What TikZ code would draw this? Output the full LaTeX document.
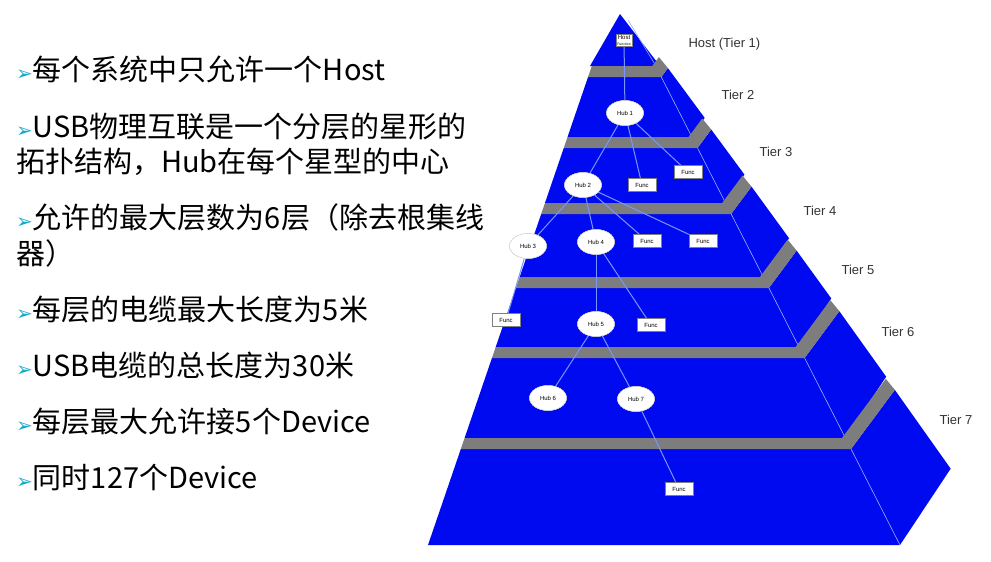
\documentclass[tikz,border=0pt]{standalone}
\usepackage{fontspec}
\setmainfont{Liberation Sans}
\newfontfamily\cjk{Noto Sans CJK SC}
\newfontfamily\dv{DejaVu Sans}
\usetikzlibrary{shapes.geometric}
\definecolor{pblue}{RGB}{0,10,240}
\definecolor{band}{RGB}{125,125,125}
\definecolor{teal}{RGB}{20,170,200}
\definecolor{lnk}{RGB}{120,150,255}
\begin{document}
\begin{tikzpicture}[x=1pt,y=-1pt,
  hub/.style={ellipse,fill=white,draw=gray!40,inner sep=0pt,minimum width=37pt,minimum height=25pt,font=\fontsize{6}{7}\selectfont},
  fn/.style={rectangle,fill=white,draw=gray,inner sep=2pt,minimum width=28pt,minimum height=13pt,font=\fontsize{6}{7}\selectfont},
  lk/.style={draw=lnk,line width=1pt},
  tl/.style={font=\fontsize{13}{15}\selectfont,text=black!80,anchor=west},
  bl/.style={anchor=base west,font=\cjk\fontsize{29}{32}\selectfont,inner sep=0pt}]
\useasboundingbox (0,0) rectangle (991,562);
\fill[white] (0,0) rectangle (991,562);
% tier 1
\fill[pblue] (620,14) -- (590,66) -- (660,66) -- cycle;
\draw[lnk!80,line width=0.6pt] (628,20) -- (656,66);
\foreach \t/\b in {66/137,137/203,203/277,277/347,347/438,438/545}{
  \pgfmathsetmacro{\tt}{\t+11}
  \pgfmathsetmacro{\xlt}{428+0.342*(545-\t)}
  \pgfmathsetmacro{\xltt}{428+0.342*(545-\tt)}
  \pgfmathsetmacro{\xlb}{428+0.342*(545-\b)}
  \pgfmathsetmacro{\xct}{850-0.51*(447-\tt)}
  \pgfmathsetmacro{\xcb}{850-0.51*(447-\b)}
  \pgfmathsetmacro{\vxt}{0.1*\t}
  \pgfmathsetmacro{\vyt}{-0.135*\t}
  \pgfmathsetmacro{\vxb}{0.093*\b}
  \pgfmathsetmacro{\vyb}{-0.14*\b}
  \fill[pblue] (\xct,\tt) -- ++(\vxt,\vyt) -- (\xcb+\vxb,\b+\vyb) -- (\xcb,\b) -- cycle;
  \fill[pblue] (\xltt,\tt) -- (\xct,\tt) -- (\xcb,\b) -- (\xlb,\b) -- cycle;
  \draw[lnk!80,line width=0.6pt] (\xct,\tt) -- (\xcb,\b);
  \fill[band] (\xlt,\t) -- (\xct-9,\t) -- ++(\vxt,\vyt) -- (\xct+\vxt,\tt+\vyt) -- (\xct,\tt) -- (\xltt,\tt) -- cycle;
}
% nodes
\node[fn,align=center,inner sep=1pt,minimum width=0pt,minimum height=0pt] (host) at (624,40) {Host\\[-1pt]\fontsize{3.5}{4}\selectfont Function};
\node[hub] (h1) at (625,113) {Hub 1};
\node[hub] (h2) at (583,185) {Hub 2};
\node[fn] (f31) at (642,185) {Func};
\node[fn] (f32) at (688,172) {Func};
\node[hub] (h3) at (528,246) {Hub 3};
\node[hub] (h4) at (596,242) {Hub 4};
\node[fn] (f41) at (647,241) {Func};
\node[fn] (f42) at (703,241) {Func};
\node[fn] (f51) at (506,320) {Func};
\node[hub] (h5) at (596,324) {Hub 5};
\node[fn] (f52) at (651,325) {Func};
\node[hub] (h6) at (548,398) {Hub 6};
\node[hub] (h7) at (636,399) {Hub 7};
\node[fn] (f7) at (679,489) {Func};
\foreach \a/\c in {host/h1,h1/h2,h1/f31,h1/f32,h2/h3,h2/h4,h2/f41,h2/f42,h3/f51,h4/h5,h4/f52,h5/h6,h5/h7,h7/f7}
  \draw[lk] (\a) -- (\c);
% redraw nodes on top of connectors
\node[fn,align=center,inner sep=1pt,minimum width=0pt,minimum height=0pt] at (624,40) {Host\\[-1pt]\fontsize{3.5}{4}\selectfont Function};
\node[hub] at (625,113) {Hub 1};
\node[hub] at (583,185) {Hub 2};
\node[fn] at (642,185) {Func};
\node[fn] at (688,172) {Func};
\node[hub] at (528,246) {Hub 3};
\node[hub] at (596,242) {Hub 4};
\node[fn] at (647,241) {Func};
\node[fn] at (703,241) {Func};
\node[fn] at (506,320) {Func};
\node[hub] at (596,324) {Hub 5};
\node[fn] at (651,325) {Func};
\node[hub] at (548,398) {Hub 6};
\node[hub] at (636,399) {Hub 7};
\node[fn] at (679,489) {Func};
% tier labels
\node[tl] (t1) at (685,44) {Host (Tier 1)};
\node[tl] (t2) at (718,95) {Tier 2};
\node[tl] (t3) at (756,152) {Tier 3};
\node[tl] (t4) at (800,211) {Tier 4};
\node[tl] (t5) at (838,270) {Tier 5};
\node[tl] (t6) at (878,332) {Tier 6};
\node[tl] (t7) at (936,420) {Tier 7};
% left text
\newcommand{\bul}{{\dv\color{teal}\fontsize{20}{22}\selectfont ➢}}
\node[bl] (l1) at (16,80) {\bul 每个系统中只允许一个Host};
\node[bl] (l2) at (16,137) {\bul USB物理互联是一个分层的星形的};
\node[bl] (l3) at (16,172) {拓扑结构，Hub在每个星型的中心};
\node[bl] (l4) at (16,228) {\bul 允许的最大层数为6层（除去根集线};
\node[bl] (l5) at (16,264) {器）};
\node[bl] (l6) at (16,320) {\bul 每层的电缆最大长度为5米};
\node[bl] (l7) at (16,376) {\bul USB电缆的总长度为30米};
\node[bl] (l8) at (16,432) {\bul 每层最大允许接5个Device};
\node[bl] (l9) at (16,488) {\bul 同时127个Device};
\end{tikzpicture}
\end{document}
